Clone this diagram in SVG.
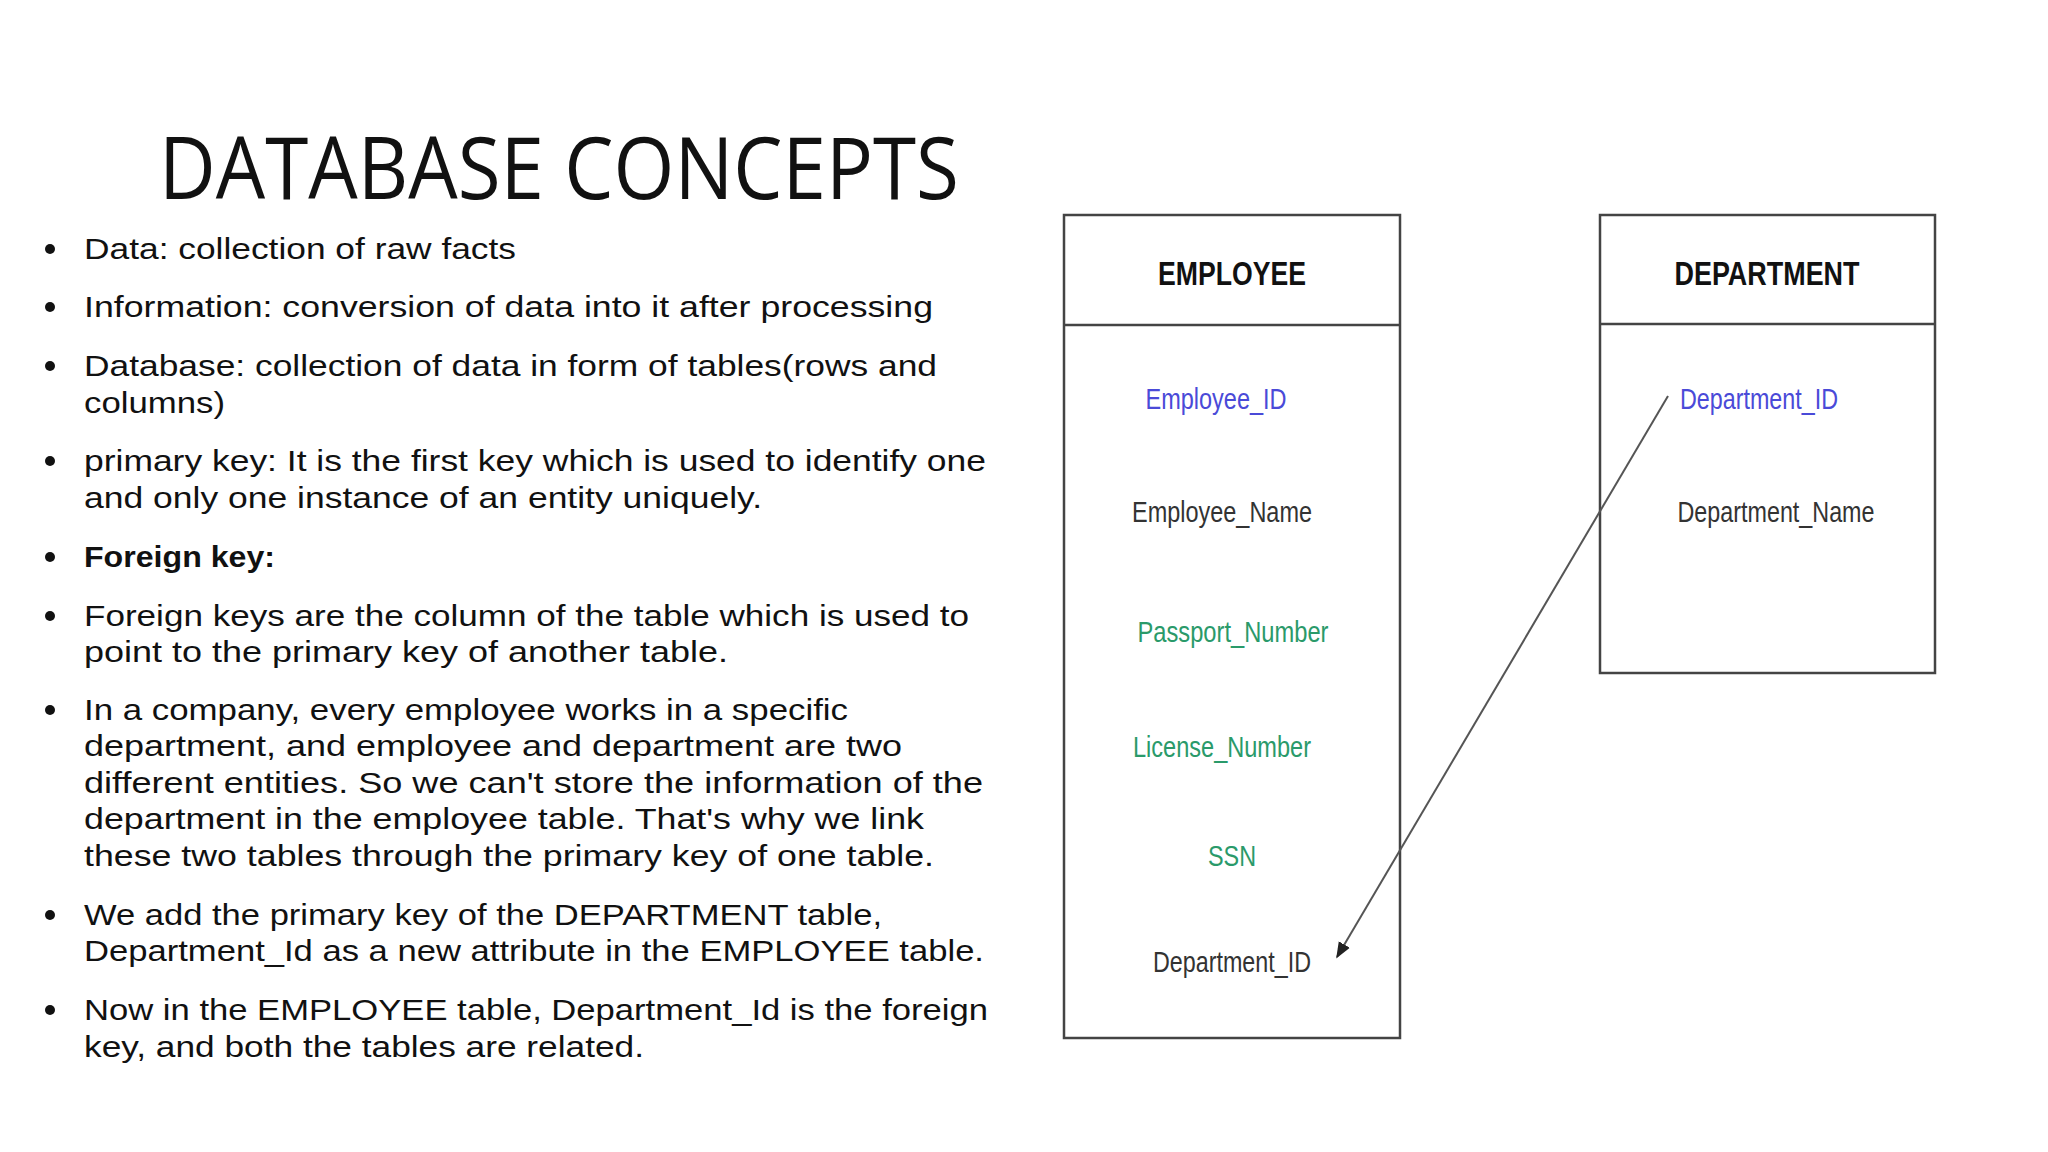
<svg xmlns="http://www.w3.org/2000/svg" width="2048" height="1152" viewBox="0 0 2048 1152">
<style>
.t{font-family:"Liberation Sans",Arial,sans-serif;font-size:30px;fill:#111}
.box{fill:#fff;stroke:#444;stroke-width:2.5}
.h{font-family:"Liberation Sans",Arial,sans-serif;font-weight:bold;font-size:34px;fill:#111;text-anchor:middle}
.a{font-family:"Liberation Sans",Arial,sans-serif;font-size:30px;text-anchor:middle}
</style>
<defs><marker id="arw" viewBox="0 0 10 10" refX="9" refY="5" markerWidth="16" markerHeight="16" orient="auto" markerUnits="userSpaceOnUse"><path d="M0,1L10,5L0,9z" fill="#222"/></marker></defs>
<rect width="2048" height="1152" fill="#fff"/>
<text x="559" y="199" text-anchor="middle" font-family="Open Sans,sans-serif" font-size="86" fill="#111" textLength="800" lengthAdjust="spacingAndGlyphs">DATABASE CONCEPTS</text>
<g id="bullets">
<g fill="#111"><circle cx="50" cy="249" r="5"/><circle cx="50" cy="307" r="5"/><circle cx="50" cy="366" r="5"/><circle cx="50" cy="461" r="5"/><circle cx="50" cy="557" r="5"/><circle cx="50" cy="616" r="5"/><circle cx="50" cy="710" r="5"/><circle cx="50" cy="915" r="5"/><circle cx="50" cy="1010" r="5"/></g>
<text class="t" x="84" y="259" textLength="432" lengthAdjust="spacingAndGlyphs">Data: collection of raw facts</text>
<text class="t" x="84" y="317" textLength="849" lengthAdjust="spacingAndGlyphs">Information: conversion of data into it after processing</text>
<text class="t" x="84" y="376" textLength="853" lengthAdjust="spacingAndGlyphs">Database: collection of data in form of tables(rows and</text>
<text class="t" x="84" y="413" textLength="141" lengthAdjust="spacingAndGlyphs">columns)</text>
<text class="t" x="84" y="471" textLength="902" lengthAdjust="spacingAndGlyphs">primary key: It is the first key which is used to identify one</text>
<text class="t" x="84" y="508" textLength="678" lengthAdjust="spacingAndGlyphs">and only one instance of an entity uniquely.</text>
<text class="t" x="84" y="567" font-weight="bold" textLength="191" lengthAdjust="spacingAndGlyphs">Foreign key:</text>
<text class="t" x="84" y="626" textLength="885" lengthAdjust="spacingAndGlyphs">Foreign keys are the column of the table which is used to</text>
<text class="t" x="84" y="662" textLength="644" lengthAdjust="spacingAndGlyphs">point to the primary key of another table.</text>
<text class="t" x="84" y="720" textLength="764" lengthAdjust="spacingAndGlyphs">In a company, every employee works in a specific</text>
<text class="t" x="84" y="756" textLength="818" lengthAdjust="spacingAndGlyphs">department, and employee and department are two</text>
<text class="t" x="84" y="793" textLength="899" lengthAdjust="spacingAndGlyphs">different entities. So we can't store the information of the</text>
<text class="t" x="84" y="829" textLength="840" lengthAdjust="spacingAndGlyphs">department in the employee table. That's why we link</text>
<text class="t" x="84" y="866" textLength="850" lengthAdjust="spacingAndGlyphs">these two tables through the primary key of one table.</text>
<text class="t" x="84" y="925" textLength="798" lengthAdjust="spacingAndGlyphs">We add the primary key of the DEPARTMENT table,</text>
<text class="t" x="84" y="961" textLength="900" lengthAdjust="spacingAndGlyphs">Department_Id as a new attribute in the EMPLOYEE table.</text>
<text class="t" x="84" y="1020" textLength="904" lengthAdjust="spacingAndGlyphs">Now in the EMPLOYEE table, Department_Id is the foreign</text>
<text class="t" x="84" y="1057" textLength="560" lengthAdjust="spacingAndGlyphs">key, and both the tables are related.</text>
</g>
<g id="employee">
<rect class="box" x="1064" y="215" width="336" height="823"/>
<line x1="1064" y1="325" x2="1400" y2="325" stroke="#444" stroke-width="2.5"/>
<text class="h" x="1232" y="285" textLength="148" lengthAdjust="spacingAndGlyphs">EMPLOYEE</text>
<text class="a" x="1216" y="409" fill="#4a4ad8" textLength="141" lengthAdjust="spacingAndGlyphs">Employee_ID</text>
<text class="a" x="1222" y="522" fill="#333" textLength="180" lengthAdjust="spacingAndGlyphs">Employee_Name</text>
<text class="a" x="1233" y="642" fill="#2a9a6a" textLength="191" lengthAdjust="spacingAndGlyphs">Passport_Number</text>
<text class="a" x="1222" y="757" fill="#2a9a6a" textLength="178" lengthAdjust="spacingAndGlyphs">License_Number</text>
<text class="a" x="1232" y="866" fill="#2a9a6a" textLength="48" lengthAdjust="spacingAndGlyphs">SSN</text>
<text class="a" x="1232" y="972" fill="#333" textLength="158" lengthAdjust="spacingAndGlyphs">Department_ID</text>
</g>
<g id="department">
<rect class="box" x="1600" y="215" width="335" height="458"/>
<line x1="1600" y1="324" x2="1935" y2="324" stroke="#444" stroke-width="2.5"/>
<text class="h" x="1767" y="285" textLength="185" lengthAdjust="spacingAndGlyphs">DEPARTMENT</text>
<text class="a" x="1759" y="409" fill="#4a4ad8" textLength="158" lengthAdjust="spacingAndGlyphs">Department_ID</text>
<text class="a" x="1776" y="522" fill="#333" textLength="197" lengthAdjust="spacingAndGlyphs">Department_Name</text>
</g>
<g id="connectors">
<line x1="1668" y1="396" x2="1337" y2="957" stroke="#555" stroke-width="2" marker-end="url(#arw)"/>
</g>
</svg>
